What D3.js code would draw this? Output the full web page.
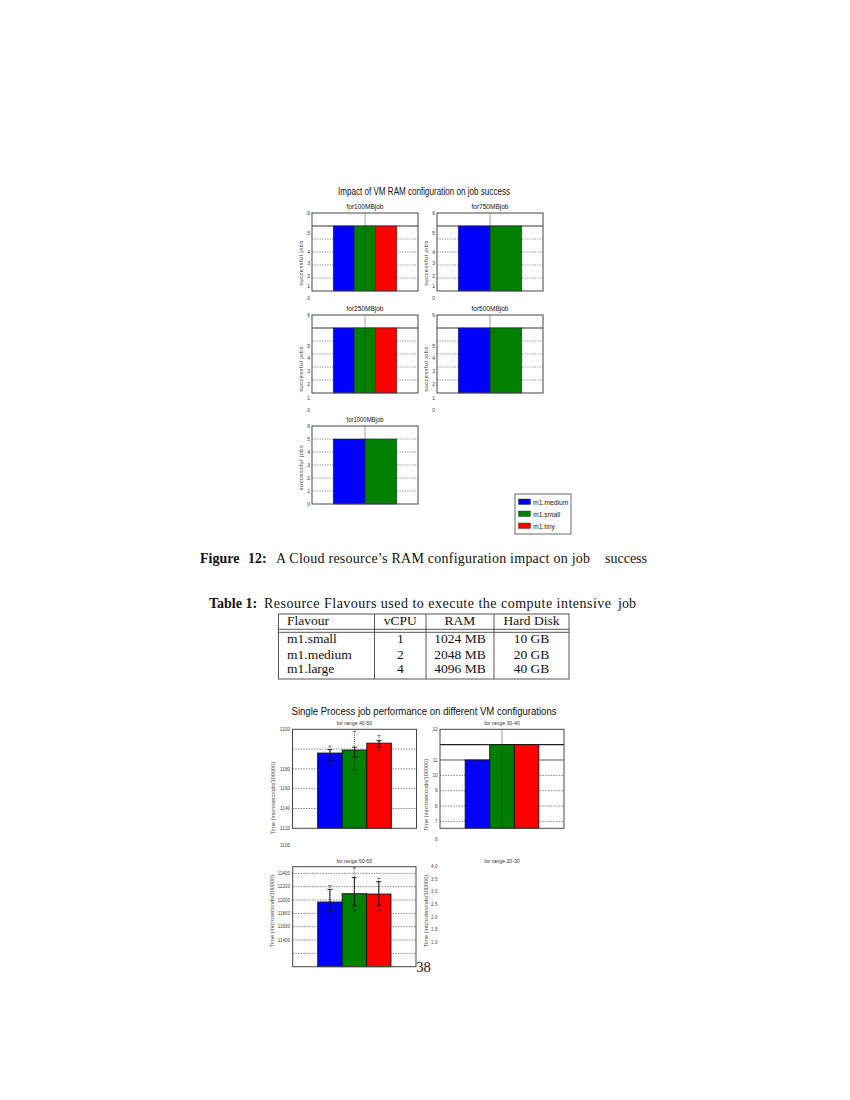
<!DOCTYPE html>
<html><head><meta charset="utf-8">
<script src="https://cdn.jsdelivr.net/npm/d3@7"></script>
<style>body{margin:0;background:#fff}</style>
</head><body>
<svg id="c" width="850" height="1100" xmlns="http://www.w3.org/2000/svg"></svg>
<script>
// ---------------- DATA ----------------
const series = ["m1.medium", "m1.small", "m1.tiny"];
const seriesColors = ["#0000ff", "#008000", "#ff0000"];

const jobTitles = ["for100MBjob", "for750MBjob", "for250MBjob", "for500MBjob", "for1000MBjob"];
const jobValues = [[5, 5, 5], [5, 5], [5, 5, 5], [5, 5], [5, 5]];
const jobTickLabels = [0, 1, 2, 3, 4, 5, 6];
// value at which each tick label is printed (labels are misaligned in the original figure)
const jobTickAt = [
  [-0.55, 0.4, 1.1, 2.1, 3.0, 4.45, 6],
  [-0.55, 0.4, 1.1, 2.1, 3.0, 4.45, 6],
  [-1.35, -0.4, 0.65, 1.65, 2.65, 3.6, 6],
  [-1.35, -0.4, 0.65, 1.65, 2.65, 3.6, 6],
  [0, 1, 2, 3, 4, 5, 6]
];
const jobGrid = [1, 2, 3, 4, 5];
const jobSolidGrid = [[5], [5], [5], [5], []];

const perfTitles = ["for range 40-50", "for range 30-40", "for range 50-55", "for range 20-30"];
const perfDomains = [[1100, 1200], [6.55, 13], [11000, 12500], [1.0, 4.0]];
const perfMeans = [[1176, 1179, 1186], [11, 12, 12], [11970, 12095, 12090], []];
const perfErrSolid = [[[1168, 1179.5], [1172, 1182], [1182, 1188.5]], [], [[11840, 12160], [11915, 12335], [11920, 12275]], []];
const perfErrDotted = [[[1165, 1183], [1159, 1198], [1179, 1193.5]], [], [[11760, 12215], [11840, 12480], [11840, 12325]], []];
const perfTickLabels = [
  ["1200", "1180", "1160", "1140", "1120", "1100"],
  ["12", "11", "10", "9", "8", "7", "6"],
  ["12400", "12200", "12000", "11800", "11600", "11400"],
  ["4.0", "3.5", "3.0", "2.5", "2.0", "1.5", "1.0"]
];
const perfTickAt = [
  [1200, 1160, 1140, 1120, 1100, 1083],
  [13, 11, 10, 9, 8, 7, 5.8],
  [12400, 12200, 12000, 11800, 11600, 11400],
  [4.0, 3.5, 3.0, 2.5, 2.0, 1.5, 1.0]
];
const perfGrid = [[1120, 1140, 1160, 1180], [7, 8, 9, 10], [11200, 11400, 11600, 11800, 12000, 12200, 12400], []];
const perfSolidGrid = [[], [11, 12], [], []];

const flavourHeader = ["Flavour", "vCPU", "RAM", "Hard Disk"];
const flavours = ["m1.small", "m1.medium", "m1.large"];
const vcpus = ["1", "2", "4"];
const rams = ["1024 MB", "2048 MB", "4096 MB"];
const disks = ["10 GB", "20 GB", "40 GB"];

// ---------------- DRAWING ----------------
const svg = d3.select("#c");
const SANS = "'Liberation Sans Narrow','Liberation Sans',Arial,sans-serif";
const SANSW = "'Liberation Sans',Arial,sans-serif";
const SERIF = "'Liberation Serif','Times New Roman',serif";

function txt(g, x, y, s, size, fam, anchor) {
  return g.append("text").attr("x", x).attr("y", y).attr("font-size", size)
    .attr("font-family", fam).attr("text-anchor", anchor || "start").attr("fill", "#111").text(s);
}

// ===== Figure 12 =====
txt(svg, 424, 195, "Impact of VM RAM configuration on job success", 10.5, SANS, "middle")
  .attr("textLength", 172).attr("lengthAdjust", "spacingAndGlyphs");

const jobCols = [312, 437], jobRows = [213, 315, 426], jobW = 106, jobH = 78;
const jobAxisTitleY = [263, 263, 369, 369, 467.5];

jobTitles.forEach((title, i) => {
  const x0 = jobCols[i % 2], y0 = jobRows[Math.floor(i / 2)];
  const g = svg.append("g");
  const y = d3.scaleLinear().domain([0, 6]).range([y0 + jobH, y0]);
  const vals = jobValues[i];
  const x = d3.scaleBand().domain(d3.range(vals.length)).range([x0 + jobW * 0.2, x0 + jobW * 0.8]);

  jobGrid.forEach(v => {
    const solid = jobSolidGrid[i].includes(v);
    g.append("line").attr("x1", x0).attr("x2", x0 + jobW).attr("y1", y(v)).attr("y2", y(v))
      .attr("stroke", solid ? "#333" : "#777").attr("stroke-width", solid ? 1.1 : 0.7)
      .attr("stroke-dasharray", solid ? null : "1.5,1");
  });

  g.selectAll("rect.bar").data(vals).join("rect").attr("class", "bar")
    .attr("x", (d, k) => x(k)).attr("width", x.bandwidth())
    .attr("y", d => y(d)).attr("height", d => y(0) - y(d))
    .attr("fill", (d, k) => seriesColors[k]).attr("stroke", "#222").attr("stroke-width", 0.5);

  g.append("line").attr("x1", x0 + jobW / 2).attr("x2", x0 + jobW / 2).attr("y1", y0).attr("y2", y0 + jobH)
    .attr("stroke", "#333").attr("stroke-opacity", 0.6).attr("stroke-width", 0.8);

  g.append("rect").attr("x", x0).attr("y", y0).attr("width", jobW).attr("height", jobH)
    .attr("fill", "none").attr("stroke", "#444").attr("stroke-width", 1);

  jobTickLabels.forEach((t, k) => {
    txt(g, x0 - 2, y(jobTickAt[i][k]) + 1.7, String(t), 5, SANSW, "end").attr("fill", "#333");
  });

  txt(g, x0 + jobW / 2, y0 - 4.5, title, 6.8, SANS, "middle").attr("textLength", 37).attr("lengthAdjust", "spacingAndGlyphs");

  txt(g, 0, 0, "successful jobs", 5.6, SANSW, "middle").attr("letter-spacing", 0.5).attr("fill", "#333")
    .attr("transform", `translate(${x0 - 9},${jobAxisTitleY[i]}) rotate(-90)`);
});

// legend
const lg = svg.append("g");
lg.append("rect").attr("x", 515).attr("y", 494).attr("width", 56).attr("height", 40)
  .attr("fill", "#fff").attr("stroke", "#444").attr("stroke-width", 0.8);
series.forEach((s, k) => {
  lg.append("rect").attr("x", 518.5).attr("y", 499 + k * 12).attr("width", 12).attr("height", 5.5)
    .attr("fill", seriesColors[k]).attr("stroke", "#222").attr("stroke-width", 0.4);
  txt(lg, 533, 504.5 + k * 12, s, 6.8, SANS).attr("fill", "#222");
});

// caption
const cap = svg.append("text").attr("y", 563).attr("font-family", SERIF).attr("font-size", 14).attr("fill", "#111");
cap.append("tspan").attr("x", 200).attr("font-weight", "bold").text("Figure");
cap.append("tspan").attr("x", 248).attr("font-weight", "bold").text("12:");
cap.append("tspan").attr("x", 276).attr("textLength", 314).attr("lengthAdjust", "spacing").text("A Cloud resource\u2019s RAM configuration impact on job");
cap.append("tspan").attr("x", 605).text("success");

// ===== Table 1 =====
const tcap = svg.append("text").attr("y", 608).attr("font-family", SERIF).attr("font-size", 14).attr("fill", "#111");
tcap.append("tspan").attr("x", 209).attr("font-weight", "bold").text("Table 1:");
tcap.append("tspan").attr("x", 264).attr("textLength", 347).attr("lengthAdjust", "spacing").text("Resource Flavours used to execute the compute intensive");
tcap.append("tspan").attr("x", 618).text("job");

const colEdges = [278.5, 374.5, 426, 494, 569];
const tTop = 614, tHead1 = 629.3, tHead2 = 632.3, tBot = 679;
const tg = svg.append("g").attr("stroke", "#555").attr("stroke-width", 1);
tg.append("rect").attr("x", colEdges[0]).attr("y", tTop).attr("width", colEdges[4] - colEdges[0]).attr("height", tBot - tTop).attr("fill", "none");
[tHead1, tHead2].forEach(yy => tg.append("line").attr("x1", colEdges[0]).attr("x2", colEdges[4]).attr("y1", yy).attr("y2", yy));
colEdges.slice(1, 4).forEach(xx => tg.append("line").attr("x1", xx).attr("x2", xx).attr("y1", tTop).attr("y2", tBot));

const colCentres = colEdges.slice(0, 4).map((e, k) => (e + colEdges[k + 1]) / 2);
flavourHeader.forEach((h, k) => {
  if (k === 0) txt(svg, 287, 625.3, h, 13.5, SERIF);
  else txt(svg, colCentres[k], 625.3, h, 13.5, SERIF, "middle");
});
const rowBase = [643.3, 658.5, 673];
const tableCols = [flavours, vcpus, rams, disks];
tableCols.forEach((col, k) => col.forEach((v, r) => {
  if (k === 0) txt(svg, 287, rowBase[r], v, 13.5, SERIF);
  else txt(svg, colCentres[k], rowBase[r], v, 13.5, SERIF, "middle");
}));

// ===== Single process figure =====
txt(svg, 424, 715, "Single Process job performance on different VM configurations", 10, SANSW, "middle")
  .attr("textLength", 265).attr("lengthAdjust", "spacingAndGlyphs");

const perfBoxes = [[292.5, 729.3, 124, 99], [440, 729.3, 124, 99], [292.7, 866.7, 123.3, 100], [440, 866.7, 124, 75.3]];
const perfHasBox = [true, true, true, false];
const perfAxisTitlePos = [[273, 798], [426, 795], [272, 911], [426, 911]];

perfTitles.forEach((title, i) => {
  const [x0, y0, w, h] = perfBoxes[i];
  const g = svg.append("g");
  const y = d3.scaleLinear().domain(perfDomains[i]).range([y0 + h, y0]);
  const vals = perfMeans[i];
  const x = d3.scaleBand().domain(d3.range(3)).range([x0 + w * 0.203, x0 + w * 0.797]);

  perfGrid[i].forEach(v => {
    g.append("line").attr("x1", x0).attr("x2", x0 + w).attr("y1", y(v)).attr("y2", y(v))
      .attr("stroke", "#666").attr("stroke-width", 0.8).attr("stroke-dasharray", "1.5,1.2");
  });
  perfSolidGrid[i].forEach((v, k) => {
    g.append("line").attr("x1", x0).attr("x2", x0 + w).attr("y1", y(v)).attr("y2", y(v))
      .attr("stroke", k === perfSolidGrid[i].length - 1 ? "#222" : "#555").attr("stroke-width", k === perfSolidGrid[i].length - 1 ? 1.4 : 1);
  });

  g.selectAll("rect.bar").data(vals).join("rect").attr("class", "bar")
    .attr("x", (d, k) => x(k)).attr("width", x.bandwidth())
    .attr("y", d => y(d)).attr("height", d => y(perfDomains[i][0]) - y(d))
    .attr("fill", (d, k) => seriesColors[k]).attr("stroke", "#111").attr("stroke-width", 0.9);

  if (i === 1) {
    g.append("line").attr("x1", x0 + w / 2).attr("x2", x0 + w / 2).attr("y1", y0).attr("y2", y0 + h)
      .attr("stroke", "#222").attr("stroke-opacity", 0.55).attr("stroke-width", 0.8);
  }

  perfErrDotted[i].forEach((e, k) => {
    const cx = x(k) + x.bandwidth() / 2;
    g.append("line").attr("x1", cx).attr("x2", cx).attr("y1", y(e[0])).attr("y2", y(e[1]))
      .attr("stroke", "#222").attr("stroke-width", 0.7).attr("stroke-dasharray", "1,1");
    e.forEach(v => g.append("line").attr("x1", cx - 1.6).attr("x2", cx + 1.6).attr("y1", y(v)).attr("y2", y(v))
      .attr("stroke", "#222").attr("stroke-width", 0.7));
  });
  perfErrSolid[i].forEach((e, k) => {
    const cx = x(k) + x.bandwidth() / 2;
    g.append("line").attr("x1", cx).attr("x2", cx).attr("y1", y(e[0])).attr("y2", y(e[1]))
      .attr("stroke", "#111").attr("stroke-width", 0.9);
    e.forEach(v => g.append("line").attr("x1", cx - 2.6).attr("x2", cx + 2.6).attr("y1", y(v)).attr("y2", y(v))
      .attr("stroke", "#111").attr("stroke-width", 0.9));
  });

  if (perfHasBox[i]) {
    g.append("rect").attr("x", x0).attr("y", y0).attr("width", w).attr("height", h)
      .attr("fill", "none").attr("stroke", "#444").attr("stroke-width", 1);
  }

  perfTickLabels[i].forEach((t, k) => {
    txt(g, x0 - 2.5, y(perfTickAt[i][k]) + 1.6, t, 4.6, SANSW, "end").attr("fill", "#444");
  });

  txt(g, x0 + w / 2, y0 - 4, title, 5.2, SANSW, "middle").attr("fill", "#333");

  const [ax, ay] = perfAxisTitlePos[i];
  txt(g, 0, 0, "Time (microseconds/100000)", 5.6, SANSW, "middle").attr("fill", "#444")
    .attr("transform", `translate(${ax + 2},${ay}) rotate(-90)`);
});

// page number
txt(svg, 423.5, 972, "38", 14.5, SERIF, "middle");
</script>
</body></html>
